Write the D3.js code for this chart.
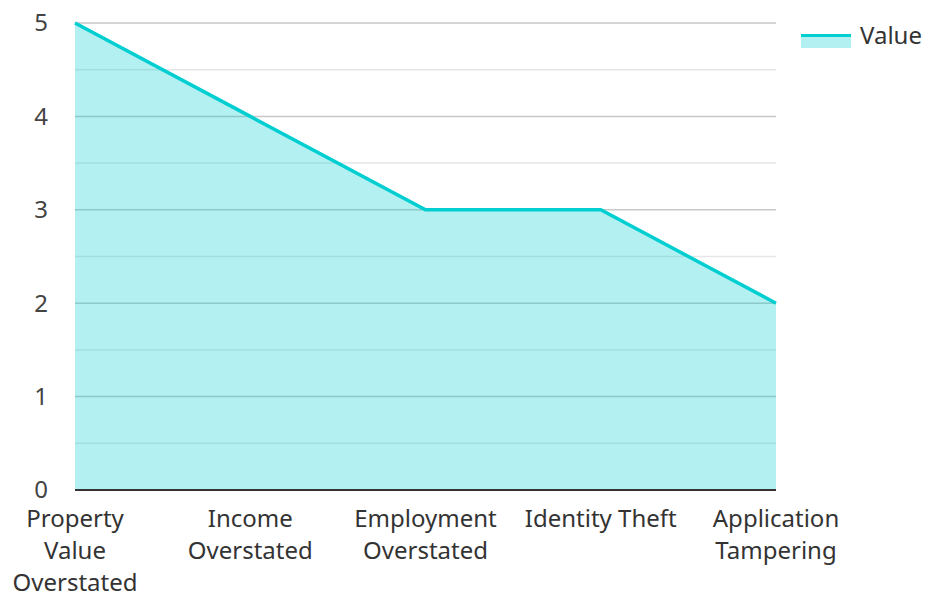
<!DOCTYPE html>
<html>
<head>
  <meta charset="utf-8">
  <title>Mortgage fraud types</title>
  <script src="https://d3js.org/d3.v7.min.js"></script>
  <style>
    body { margin: 0; background: #fff; }
    text { font-family: "Noto Sans", "Open Sans", sans-serif; }
  </style>
</head>
<body>
  <script>
    // Chart data
    let categories = ["Property Value Overstated", "Income Overstated", "Employment Overstated", "Identity Theft", "Application Tampering"];
    let labelLines = [["Property", "Value", "Overstated"], ["Income", "Overstated"], ["Employment", "Overstated"], ["Identity Theft"], ["Application", "Tampering"]];
    let values = [5, 4, 3, 3, 2];
    let yTicks = [0, 1, 2, 3, 4, 5];
    let seriesName = "Value";

    let color = "#00CED1";

    let margin = {top: 23, right: 150, bottom: 104, left: 75},
        width = 926 - margin.left - margin.right,
        height = 594 - margin.top - margin.bottom;

    let svg = d3.select("body")
                .append("svg")
                .attr("width", 926)
                .attr("height", 594);

    let g = svg.append("g")
               .attr("transform", "translate(" + margin.left + "," + margin.top + ")");

    let x = d3.scalePoint()
              .domain(categories)
              .range([0, width])
              .padding(0);

    let y = d3.scaleLinear()
              .domain([0, 5])
              .range([height, 0]);

    // Minor gridlines (every 0.5)
    let minor = d3.range(0.5, 5, 1);
    g.selectAll(".minor")
     .data(minor)
     .enter()
     .append("line")
     .attr("x1", 0)
     .attr("x2", width)
     .attr("y1", d => y(d))
     .attr("y2", d => y(d))
     .attr("stroke", "#e6e6e6")
     .attr("stroke-width", 1.5);

    // Major gridlines
    g.selectAll(".major")
     .data(yTicks.filter(d => d > 0))
     .enter()
     .append("line")
     .attr("x1", 0)
     .attr("x2", width)
     .attr("y1", d => y(d))
     .attr("y2", d => y(d))
     .attr("stroke", "#c8c8c8")
     .attr("stroke-width", 1.5);

    // Area
    let area = d3.area()
                 .x((d, i) => x(categories[i]))
                 .y0(y(0))
                 .y1(d => y(d));

    g.append("path")
     .datum(values)
     .attr("d", area)
     .attr("fill", color)
     .attr("fill-opacity", 0.3);

    // Line
    let line = d3.line()
                 .x((d, i) => x(categories[i]))
                 .y(d => y(d));

    g.append("path")
     .datum(values)
     .attr("d", line)
     .attr("fill", "none")
     .attr("stroke", color)
     .attr("stroke-width", 3.5);

    // Baseline
    g.append("line")
     .attr("x1", 0)
     .attr("x2", width)
     .attr("y1", height)
     .attr("y2", height)
     .attr("stroke", "#333")
     .attr("stroke-width", 2);

    // Y labels
    g.selectAll(".ylab")
     .data(yTicks)
     .enter()
     .append("text")
     .attr("x", -34)
     .attr("y", d => y(d))
     .attr("dy", "0.35em")
     .attr("text-anchor", "middle")
     .attr("font-size", 24)
     .attr("fill", "#444")
     .text(d => d);

    // X labels
    let xl = g.selectAll(".xlab")
              .data(categories)
              .enter()
              .append("text")
              .attr("text-anchor", "middle")
              .attr("font-size", 24)
              .attr("fill", "#333")
              .attr("transform", d => "translate(" + x(d) + "," + (height + 37) + ")");

    xl.selectAll("tspan")
      .data((d, i) => labelLines[i])
      .enter()
      .append("tspan")
      .attr("x", 0)
      .attr("y", (d, i) => i * 32)
      .text(d => d);

    // Legend
    let legend = svg.append("g")
                    .attr("transform", "translate(801,34)");

    legend.append("rect")
          .attr("x", 0)
          .attr("y", 0)
          .attr("width", 50)
          .attr("height", 14)
          .attr("fill", color)
          .attr("fill-opacity", 0.3);

    legend.append("line")
          .attr("x1", 0)
          .attr("x2", 50)
          .attr("y1", 1.5)
          .attr("y2", 1.5)
          .attr("stroke", color)
          .attr("stroke-width", 3);

    legend.append("text")
          .attr("x", 59)
          .attr("y", 10)
          .attr("font-size", 24)
          .attr("fill", "#333")
          .text(seriesName);
  </script>
</body>
</html>
